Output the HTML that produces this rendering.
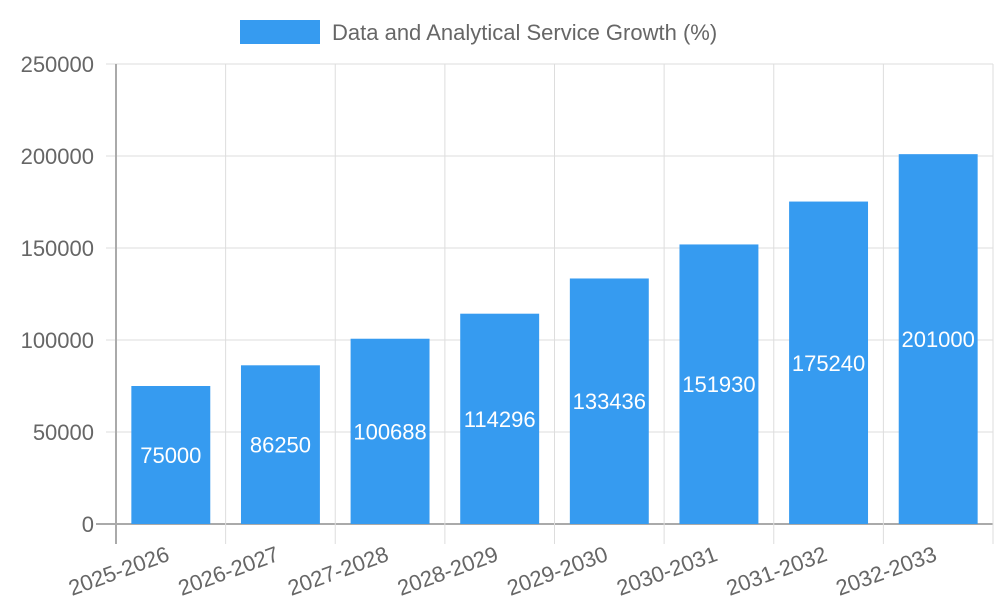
<!DOCTYPE html>
<html><head><meta charset="utf-8"><style>
body{margin:0;background:#fff;width:1000px;height:600px;overflow:hidden}
svg{font-family:"Liberation Sans",sans-serif}
</style></head><body>
<svg id="chart" width="1000" height="600" xmlns="http://www.w3.org/2000/svg">
<g>
<rect x="240" y="20" width="80" height="24" fill="#369bf0"/>
<text x="332" y="40" font-size="22" fill="#666">Data and Analytical Service Growth (%)</text>
</g>
<g id="grid"></g><g id="bars"></g><g id="labels"></g>
</svg>
<script>
const categories=["2025-2026","2026-2027","2027-2028","2028-2029","2029-2030","2030-2031","2031-2032","2032-2033"];
const values=[75000,86250,100688,114296,133436,151930,175240,201000];
const yTicks=[0,50000,100000,150000,200000,250000];
const NS="http://www.w3.org/2000/svg";
const L=116,R=993,T=64,B=524,yMax=250000;
const bw=(R-L)/categories.length;
const y=v=>B-(v/yMax)*(B-T);
const x=i=>L+i*bw;
function mk(tag,attrs,parent,text){const e=document.createElementNS(NS,tag);for(const k in attrs)e.setAttribute(k,attrs[k]);if(text!==undefined)e.textContent=text;parent.appendChild(e);return e;}
const grid=document.getElementById('grid'),bars=document.getElementById('bars'),labels=document.getElementById('labels');
yTicks.forEach(t=>{
 const ln=mk('line',{x1:t===0?96:L-10,x2:R,y1:y(t),y2:y(t),stroke:t===0?'#aaa':'#ddd','stroke-width':t===0?2:1},grid);
 
 
 const tx=mk('text',{x:L-22,y:y(t)+8,'text-anchor':'end','font-size':22,fill:'#666'},grid,String(t));
 
 
});
for(let i=0;i<=categories.length;i++){
 const ln=mk('line',{x1:x(i),x2:x(i),y1:T,y2:B+20,stroke:i===0?'#aaa':'#ddd','stroke-width':i===0?2:1},grid);
 
 
}
categories.forEach((c,i)=>{
 const cx=x(i)+bw/2,w=bw*0.72,v=values[i];
 const r=mk('rect',{x:cx-w/2,y:y(v),width:w,height:B-y(v),fill:'#369bf0'},bars);
 
 
 const vl=mk('text',{x:cx,y:(y(v)+B)/2+8,'text-anchor':'middle','font-size':22,fill:'#fff'},labels,String(v));
 
 
 const xl=mk('text',{x:0,y:0,'text-anchor':'end','font-size':22,fill:'#666',transform:`translate(${cx},${B+36}) rotate(-20)`},labels,c);
 
 
});
</script>
</body></html>
